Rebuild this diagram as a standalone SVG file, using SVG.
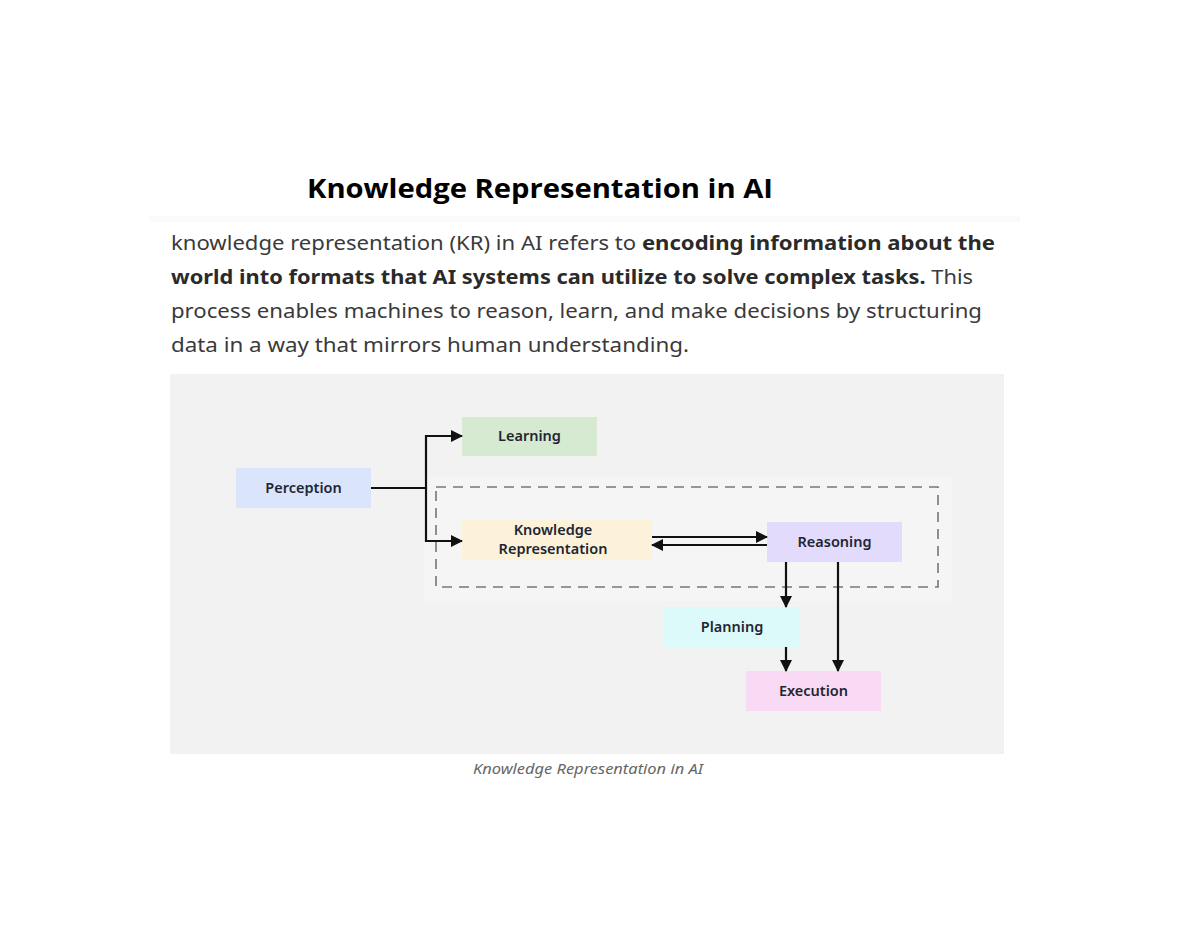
<svg xmlns="http://www.w3.org/2000/svg" width="1200" height="927" viewBox="0 0 1200 927">
<defs>
<marker id="ah" markerWidth="12" markerHeight="12" refX="11" refY="6" orient="auto" markerUnits="userSpaceOnUse">
<path d="M0,0 L12,6 L0,12 z" fill="#111"/>
</marker>
<style>
.para{font-family:"Noto Sans","Liberation Sans",sans-serif;font-size:19px;fill:#3a3a3a}
.b{font-weight:700;fill:#2a2a2a}
.lbl{font-family:"Noto Sans","Liberation Sans",sans-serif;font-size:14.5px;font-weight:600;fill:#1e2633;text-anchor:middle}
.conn{stroke:#111;stroke-width:2.2;fill:none}
</style>
</defs>
<rect width="1200" height="927" fill="#fff"/>
<text x="307" y="198" font-family="Open Sans, Liberation Sans, sans-serif" font-size="27" font-weight="700" fill="#000" textLength="466" lengthAdjust="spacingAndGlyphs">Knowledge Representation in AI</text>
<rect x="150" y="216" width="870" height="6" fill="#fafafa"/>
<text class="para" x="171" y="250" textLength="824" lengthAdjust="spacingAndGlyphs">knowledge representation (KR) in AI refers to <tspan class="b">encoding information about the</tspan></text>
<text class="para" x="171" y="284" textLength="802" lengthAdjust="spacingAndGlyphs"><tspan class="b">world into formats that AI systems can utilize to solve complex tasks.</tspan> This</text>
<text class="para" x="171" y="318" textLength="811" lengthAdjust="spacingAndGlyphs">process enables machines to reason, learn, and make decisions by structuring</text>
<text class="para" x="171" y="352" textLength="518" lengthAdjust="spacingAndGlyphs">data in a way that mirrors human understanding.</text>
<rect x="170" y="374" width="834" height="380" fill="#f2f2f2"/>
<rect x="424" y="477" width="528" height="124" fill="#f5f5f5"/>
<rect x="436" y="487" width="502" height="100" fill="none" stroke="#777" stroke-width="1.6" stroke-dasharray="10,7"/>
<g id="perception"><rect x="236" y="468" width="135" height="40" fill="#dae5fb"/><text class="lbl" x="303.5" y="493">Perception</text></g>
<g id="learning"><rect x="462" y="417" width="135" height="39" fill="#d5ead1"/><text class="lbl" x="529.5" y="441">Learning</text></g>
<g id="kr"><rect x="462" y="520" width="190" height="40" fill="#fcf2da"/><text class="lbl" x="553" y="535" font-size="13.5">Knowledge</text><text class="lbl" x="553" y="554" font-size="13.5">Representation</text></g>
<g id="reasoning"><rect x="767" y="522" width="135" height="40" fill="#e3dbfb"/><text class="lbl" x="834.5" y="547">Reasoning</text></g>
<g id="planning"><rect x="664" y="607" width="136" height="40" fill="#dcfaf9"/><text class="lbl" x="732" y="632">Planning</text></g>
<g id="execution"><rect x="746" y="671" width="135" height="40" fill="#f9daf4"/><text class="lbl" x="813.5" y="696">Execution</text></g>
<g id="connectors">
<path class="conn" d="M371,488 H426"/>
<path class="conn" d="M426,435 V542"/>
<path class="conn" d="M425,436 H462" marker-end="url(#ah)"/>
<path class="conn" d="M425,541 H462" marker-end="url(#ah)"/>
<path class="conn" d="M652,537 H767" marker-end="url(#ah)"/>
<path class="conn" d="M767,545 H652" marker-end="url(#ah)"/>
<path class="conn" d="M786,562 V607" marker-end="url(#ah)"/>
<path class="conn" d="M786,647 V671" marker-end="url(#ah)"/>
<path class="conn" d="M838,562 V671" marker-end="url(#ah)"/>
</g>
<text x="473" y="774" font-family="Noto Sans, Liberation Sans, sans-serif" font-size="14" font-style="italic" fill="#666" textLength="230" lengthAdjust="spacingAndGlyphs">Knowledge Representation in AI</text>
</svg>
